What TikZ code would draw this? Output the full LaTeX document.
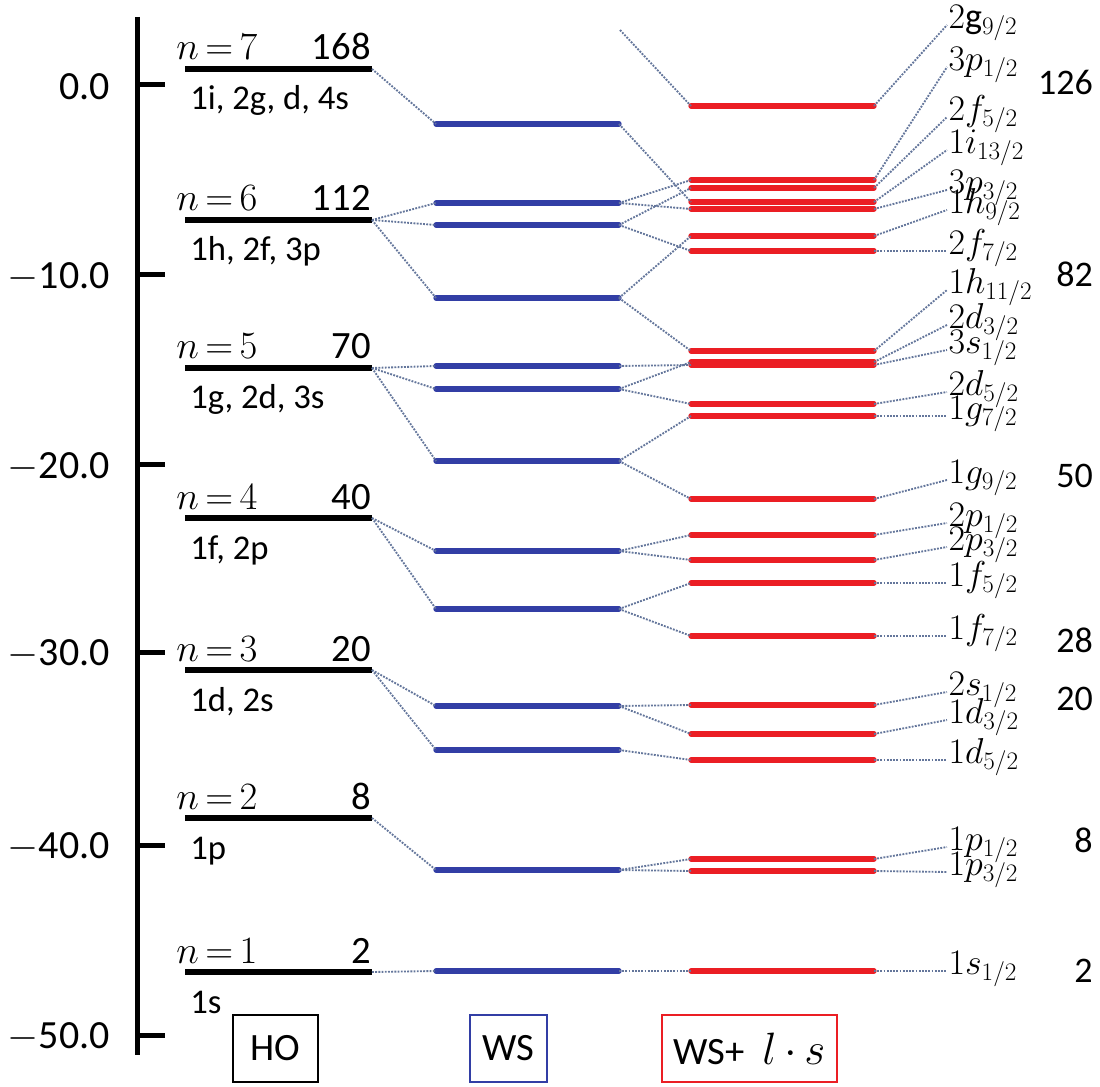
\documentclass[tikz,border=0pt]{standalone}
\usepackage{fix-cm}
\usepackage{amsmath}
\usepackage{fontspec}
\setmainfont{Carlito}
\usepackage{tikz}

\tikzset{
  hobar/.style={color=black, line width=3.8pt},
  wsbar/.style={color={rgb, 255:red, 50; green, 62; blue, 165}, line width=4pt, line cap=round},
  lsbar/.style={color={rgb, 255:red, 235; green, 30; blue, 36}, line width=4pt, line cap=round},
  link/.style={color={rgb, 255:red, 100; green, 118; blue, 155}, densely dotted, line width=1.4pt},
  ticklabel/.style={anchor=east, inner sep=0pt, font=\fontsize{30}{36}\selectfont},
  holabel/.style={inner sep=0pt, font=\fontsize{29}{34}\selectfont},
  subshell/.style={anchor=base west, inner sep=0pt, font=\fontsize{26}{30}\selectfont},
  lslabel/.style={anchor=west, inner xsep=1pt, inner ysep=0pt, text height=0.5em, text depth=0pt, font=\fontsize{27}{32}\selectfont},
  magic/.style={anchor=base east, inner sep=0pt, font=\fontsize{27}{32}\selectfont},
  modelbox/.style={line width=1.1pt, minimum height=50.25pt, inner sep=0pt, font=\fontsize{29}{34}\selectfont}
}

\begin{document}
\begin{tikzpicture}[x=0.75pt,y=0.75pt,yscale=-1,xscale=1]
\useasboundingbox (0,0) rectangle (1100,1087);

%Energy axis
\draw [line width=3.75pt] (137,17) -- (137,1055) ;
\foreach \y/\v in {85/0.0, 275/\(-\)10.0, 465/\(-\)20.0, 652/\(-\)30.0, 845/\(-\)40.0, 1035/\(-\)50.0}{
  \draw [line width=3.75pt] (137,\y) -- (165,\y) ;
  \node [ticklabel] at (110,\y+2) {\v};
}

%HO levels
\foreach \n/\y/\cnt/\sub in {1/972/2/1s, 2/818/8/1p, 3/670/20/{1d, 2s}, 4/518/40/{1f, 2p}, 5/368/70/{1g, 2d, 3s}, 6/220/112/{1h, 2f, 3p}, 7/69/168/{1i, 2g, d, 4s}}{
  \coordinate (ho\n-l) at (185,\y);
  \coordinate (ho\n-r) at (372,\y);
  \draw [hobar] (ho\n-l) -- (ho\n-r) ;
  % Text Node
  \node [holabel, anchor=base west] (hon\n) at (176,\y-9) {$n\,{=}\,\n$};
  \node [holabel, anchor=base east] (hocnt\n) at (371,\y-9) {\cnt};
  \node [subshell] (hosub\n) at (190,\y+41) {\sub};
}

%WS levels
\foreach \o/\y in {1s/971, 1p/870, 1d/750, 2s/706, 1f/609, 2p/551, 1g/461, 2d/389, 3s/366, 1h/298, 2f/225, 3p/203, 1i/124}{
  \coordinate (ws\o-l) at (436,\y);
  \coordinate (ws\o-r) at (619,\y);
  \draw [wsbar] (ws\o-l) -- (ws\o-r) ;
}

%WS + l.s levels with their labels
\foreach \o/\y/\ly/\t in {1s1/971/971/{$1s_{1/2}$}, 1p3/871/872/{$1p_{3/2}$}, 1p1/859/847/{$1p_{1/2}$},
    1d5/760/760/{$1d_{5/2}$}, 1d3/734/720/{$1d_{3/2}$}, 2s1/705/692/{$2s_{1/2}$},
    1f7/636/636/{$1f_{7/2}$}, 1f5/583/583/{$1f_{5/2}$}, 2p3/560/547/{$2p_{3/2}$}, 2p1/535/523/{$2p_{1/2}$},
    1g9/499/480/{$1g_{9/2}$}, 1g7/416/416/{$1g_{7/2}$}, 2d5/404/392/{$2d_{5/2}$},
    3s1/365/350/{$3s_{1/2}$}, 2d3/362/325/{$2d_{3/2}$}, 1h11/351/290/{$1h_{11/2}$},
    2f7/251/251/{$2f_{7/2}$}, 1h9/236/210/{$1h_{9/2}$}, 3p3/209/190/{$3p_{3/2}$},
    1i13/202/150/{$1i_{13/2}$}, 2f5/188/117/{$2f_{5/2}$}, 3p1/180/67/{$3p_{1/2}$}, 2g9/106/25/{$2\mathrm{g}_{9/2}$}}{
  \coordinate (ls\o-l) at (691,\y);
  \coordinate (ls\o-r) at (874,\y);
  \draw [lsbar] (ls\o-l) -- (ls\o-r) ;
  % Text Node
  \node [lslabel] (lab\o) at (947,\ly) {\t};
  \draw [link] (ls\o-r) -- (lab\o.west) ;
}

%HO to WS
\foreach \n/\o in {7/1i, 6/3p, 6/2f, 6/1h, 5/3s, 5/2d, 5/1g, 4/2p, 4/1f, 3/2s, 3/1d, 2/1p, 1/1s}{
  \draw [link] (ho\n-r) -- (ws\o-l) ;
}

%WS to WS + l.s
\foreach \o/\j in {1i/1i13, 3p/3p1, 3p/3p3, 2f/2f5, 2f/2f7, 1h/1h9, 1h/1h11, 3s/3s1, 2d/2d3, 2d/2d5, 1g/1g7, 1g/1g9, 2p/2p1, 2p/2p3, 1f/1f5, 1f/1f7, 2s/2s1, 2s/1d3, 1d/1d5, 1p/1p1, 1p/1p3, 1s/1s1}{
  \draw [link] (ws\o-r) -- (ls\j-l) ;
}
\coordinate (gsrc) at (620,30);
\draw [link] (gsrc) -- (ls2g9-l) ;

%Shell closures
\foreach \y/\m in {95/126, 287/82, 488/50, 652/28, 710/20, 852/8, 982/2}{
  \node [magic] (magic\m) at (1093,\y) {\m};
}

%Model boxes
\node [modelbox, draw=black, minimum width=63.75pt] (hobox) at (275.5,1048.5) {HO};
\node [modelbox, draw={rgb, 255:red, 50; green, 62; blue, 165}, minimum width=57.75pt] (wsbox) at (508.5,1048.5) {WS};
\node [modelbox, draw={rgb, 255:red, 235; green, 30; blue, 36}, minimum width=131.25pt] (lsbox) at (749.5,1048.5) {WS+\ \ \fontsize{34}{38}\selectfont$l\,{\cdot}\,s$};

\end{tikzpicture}
\end{document}
